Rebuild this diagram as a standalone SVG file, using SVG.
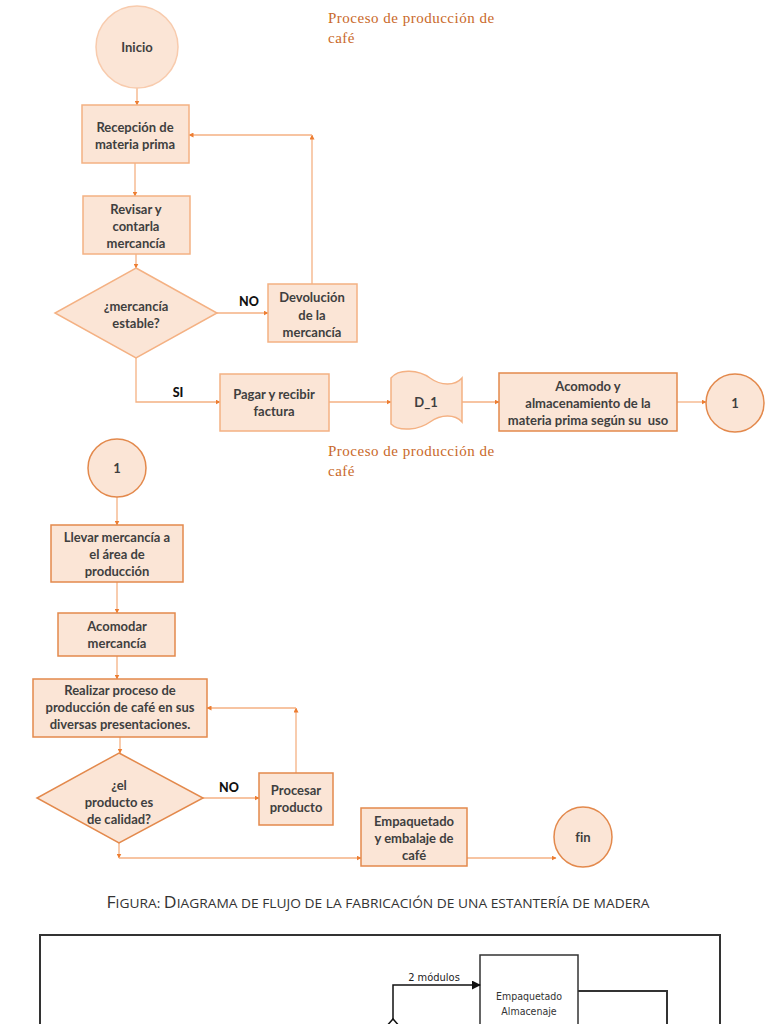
<svg xmlns="http://www.w3.org/2000/svg" width="768" height="1024" viewBox="0 0 768 1024">
<style>
.bx{fill:#FBE5D6;stroke:#F4B183;stroke-width:1.5}
.bx2{fill:#FBE5D6;stroke:#E3894C;stroke-width:1.5}
.t{font-family:Lato,"Open Sans","Liberation Sans",sans-serif;font-weight:bold;font-size:13px;fill:#3f3f3f;text-anchor:middle;font-variant-ligatures:none}
.lb{font-family:Lato,"Open Sans","Liberation Sans",sans-serif;font-weight:900;font-size:12.5px;fill:#111;text-anchor:middle}
.ttl{font-family:"Liberation Serif","DejaVu Serif",serif;font-size:15px;fill:#C9692A;letter-spacing:0.5px}
.cn{fill:none;stroke:#F4B183;stroke-width:1.3}
.bk{fill:none;stroke:#333;stroke-width:2}
.bt{font-family:"DejaVu Sans Condensed","Liberation Sans",sans-serif;font-size:10.5px;fill:#333;text-anchor:middle}
</style>
<defs>
<marker id="ah" viewBox="0 0 10 10" refX="9" refY="5" markerWidth="5" markerHeight="5" orient="auto" markerUnits="userSpaceOnUse">
<path d="M0,0 L10,5 L0,10 Z" fill="#ED7D31"/>
</marker>
<marker id="ahb" viewBox="0 0 10 10" refX="9" refY="5" markerWidth="9" markerHeight="9" orient="auto" markerUnits="userSpaceOnUse">
<path d="M0,0 L10,5 L0,10 Z" fill="#111"/>
</marker>
</defs>
<rect width="768" height="1024" fill="#fff"/>

<text class="ttl" x="328" y="23">Proceso de producción de</text>
<text class="ttl" x="328" y="43">café</text>
<text class="ttl" x="328" y="456">Proceso de producción de</text>
<text class="ttl" x="328" y="476">café</text>

<g id="connectors">
<path class="cn" d="M137,88 L137,105" marker-end="url(#ah)"/>
<path class="cn" d="M135,163 L135,196" marker-end="url(#ah)"/>
<path class="cn" d="M136,254 L136,268" marker-end="url(#ah)"/>
<path class="cn" d="M217,313 L268,313" marker-end="url(#ah)"/>
<path class="cn" d="M312,284 L312,135" marker-end="url(#ah)"/>
<path class="cn" d="M312,135 L189,135" marker-end="url(#ah)"/>
<path class="cn" d="M136,358 L136,402 L220,402" marker-end="url(#ah)"/>
<path class="cn" d="M329,402 L391,402" marker-end="url(#ah)"/>
<path class="cn" d="M462,402 L499,402" marker-end="url(#ah)"/>
<path class="cn" d="M677,402 L706,402" marker-end="url(#ah)"/>
<path class="cn" d="M117,497 L117,525" marker-end="url(#ah)"/>
<path class="cn" d="M117,582 L117,613" marker-end="url(#ah)"/>
<path class="cn" d="M117,656 L117,679" marker-end="url(#ah)"/>
<path class="cn" d="M120,737 L120,753" marker-end="url(#ah)"/>
<path class="cn" d="M203,798 L259,798" marker-end="url(#ah)"/>
<path class="cn" d="M296,773 L296,708" marker-end="url(#ah)"/>
<path class="cn" d="M296,708 L207,708" marker-end="url(#ah)"/>
<path class="cn" d="M119,843 L119,858" marker-end="url(#ah)"/>
<path class="cn" d="M119,858 L361,858" marker-end="url(#ah)"/>
<path class="cn" d="M467,858 L556,858" marker-end="url(#ah)"/>
</g>

<g id="inicio"><circle cx="137" cy="47" r="41" fill="#FBE5D6" stroke="#F8CBAD" stroke-width="1.5"/><text class="t" x="137" y="52">Inicio</text></g>
<g id="recepcion"><rect class="bx" x="82" y="105" width="107" height="58"/><text class="t" x="135" y="132">Recepción de</text><text class="t" x="135" y="149">materia prima</text></g>
<g id="revisar"><rect class="bx" x="83" y="196" width="107" height="58"/><text class="t" x="136" y="214">Revisar y</text><text class="t" x="136" y="231">contarla</text><text class="t" x="136" y="248">mercancía</text></g>
<g id="decision1"><polygon class="bx" points="136,268 217,313 136,358 55,313"/><text class="t" x="136" y="311">¿mercancía</text><text class="t" x="136" y="328">estable?</text></g>
<g id="devolucion"><rect class="bx" x="268" y="284" width="89" height="58"/><text class="t" x="312" y="302">Devolución</text><text class="t" x="312" y="320">de la</text><text class="t" x="312" y="337">mercancía</text></g>
<g id="pagar"><rect class="bx" x="220" y="374" width="109" height="57"/><text class="t" x="274" y="399">Pagar y recibir</text><text class="t" x="274" y="416">factura</text></g>
<g id="d1"><path class="bx" d="M391,378 C399,368 419,370 430,378 C441,386 455,386 462,378 L462,422 C455,414 441,414 430,422 C419,430 399,432 391,424 Z"/><text class="t" x="426" y="407">D_1</text></g>
<g id="acomodo"><rect class="bx2" x="499" y="373" width="178" height="58"/><text class="t" x="588" y="391">Acomodo y</text><text class="t" x="588" y="408">almacenamiento de la</text><text class="t" x="588" y="425" style="white-space:pre">materia prima según su  uso</text></g>
<g id="conector1a"><circle class="bx2" cx="735" cy="403" r="29"/><text class="t" x="735" y="408">1</text></g>
<g id="conector1b"><circle class="bx2" cx="117" cy="468" r="29"/><text class="t" x="117" y="473">1</text></g>
<g id="llevar"><rect class="bx2" x="51" y="525" width="132" height="57"/><text class="t" x="117" y="542">Llevar mercancía a</text><text class="t" x="117" y="559">el área de</text><text class="t" x="117" y="576">producción</text></g>
<g id="acomodar"><rect class="bx2" x="58" y="613" width="117" height="43"/><text class="t" x="117" y="631">Acomodar</text><text class="t" x="117" y="648">mercancía</text></g>
<g id="realizar"><rect class="bx2" x="33" y="679" width="174" height="58"/><text class="t" x="120" y="695">Realizar proceso de</text><text class="t" x="120" y="712">producción de café en sus</text><text class="t" x="120" y="729">diversas presentaciones.</text></g>
<g id="decision2"><polygon class="bx2" points="119,753 203,798 119,843 37,798"/><text class="t" x="119" y="790">¿el</text><text class="t" x="119" y="807">producto es</text><text class="t" x="119" y="824">de calidad?</text></g>
<g id="procesar"><rect class="bx2" x="259" y="773" width="74" height="52"/><text class="t" x="296" y="795">Procesar</text><text class="t" x="296" y="812">producto</text></g>
<g id="empaquetado"><rect class="bx2" x="361" y="808" width="106" height="58"/><text class="t" x="414" y="826">Empaquetado</text><text class="t" x="414" y="843">y embalaje de</text><text class="t" x="414" y="860">café</text></g>
<g id="fin"><ellipse class="bx2" cx="583" cy="837" rx="29" ry="30"/><text class="t" x="583" y="842">fin</text></g>

<g id="labels">
<text class="lb" x="249" y="306">NO</text>
<text class="lb" x="178" y="397">SI</text>
<text class="lb" x="229" y="792">NO</text>
</g>

<text x="378" y="908" text-anchor="middle" textLength="543" lengthAdjust="spacingAndGlyphs" font-family="'Open Sans','Liberation Sans',sans-serif" fill="#333"><tspan font-size="16">F</tspan><tspan font-size="12.5">IGURA: </tspan><tspan font-size="16">D</tspan><tspan font-size="12.5">IAGRAMA DE FLUJO DE LA FABRICACIÓN DE UNA ESTANTERÍA DE MADERA</tspan></text>

<g id="figura2">
<rect class="bk" x="40" y="935" width="680" height="120"/>
<g id="empaquetado-almacenaje"><rect x="480" y="955" width="98" height="100" fill="#fff" stroke="#333" stroke-width="1.5"/><text class="bt" x="529" y="1000">Empaquetado</text><text class="bt" x="529" y="1015">Almacenaje</text></g>
<g id="connectors2">
<path d="M393,1020 L393,985 L480,985" fill="none" stroke="#111" stroke-width="1.5" marker-end="url(#ahb)"/>
<path d="M578,991 L667,991 L667,1030" fill="none" stroke="#333" stroke-width="2"/>
<path d="M385,1028 L393,1019 L401,1028" fill="#fff" stroke="#111" stroke-width="1.5"/>
</g>
<text x="434" y="981" text-anchor="middle" font-family="'DejaVu Sans Condensed','Liberation Sans',sans-serif" font-size="11" fill="#222">2 módulos</text>
</g>
</svg>
